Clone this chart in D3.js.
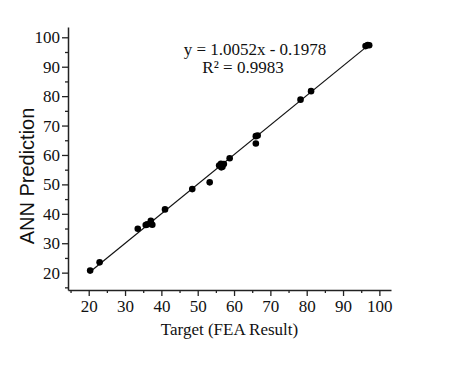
<!DOCTYPE html>
<html>
<head>
<meta charset="utf-8">
<script src="https://cdn.jsdelivr.net/npm/d3@7"></script>
<style>
  html, body { margin: 0; padding: 0; background: #fff; }
  svg { display: block; }
</style>
</head>
<body>
<svg id="chart" width="474" height="366"></svg>
<script>
// ---- data ----
const targetValues = [20.4, 23.0, 33.5, 35.7, 36.1, 37.1, 37.5, 41.0, 48.5, 53.3, 55.9, 56.4, 56.8, 57.2, 56.5, 58.8, 66.0, 66.5, 66.0, 78.3, 81.2, 96.2, 96.8, 97.2];
const predictedValues = [20.7, 23.5, 34.9, 36.2, 36.4, 37.6, 36.3, 41.5, 48.4, 50.7, 56.4, 57.0, 56.0, 56.9, 55.8, 58.9, 66.4, 66.6, 63.9, 78.8, 81.7, 97.0, 97.4, 97.3];
const xTickValues = [20, 30, 40, 50, 60, 70, 80, 90, 100];
const yTickValues = [20, 30, 40, 50, 60, 70, 80, 90, 100];
const xMinorTicks = [15, 25, 35, 45, 55, 65, 75, 85, 95];
const yMinorTicks = [15, 25, 35, 45, 55, 65, 75, 85, 95];
const fitSlope = 1.0052;
const fitIntercept = -0.1978;
const equationText = "y = 1.0052x - 0.1978";
const r2Text = "R² = 0.9983";
const xTitle = "Target (FEA Result)";
const yTitle = "ANN Prediction";

// ---- layout ----
const svg = d3.select("#chart");
const mLeft = 68, mRight = 391, mTop = 27, mBottom = 290;
const x = d3.scaleLinear().domain([14.3, 103.2]).range([mLeft, mRight]);
const y = d3.scaleLinear().domain([14.1, 103.5]).range([mBottom, mTop]);
const serif = "'Liberation Serif', 'Times New Roman', serif";

function styleAxis(g) {
  g.select(".domain").attr("stroke", "#222").attr("stroke-width", 1.5);
  g.selectAll(".tick line").attr("stroke", "#222").attr("stroke-width", 1.3);
  g.selectAll(".tick text").attr("font-family", serif).attr("font-size", 17).attr("fill", "#111");
}

// minor ticks
svg.append("g").attr("transform", `translate(0,${mBottom})`)
  .call(d3.axisBottom(x).tickValues(xMinorTicks).tickSize(3).tickFormat(""))
  .call(g => { g.select(".domain").remove(); g.selectAll(".tick line").attr("stroke", "#222").attr("stroke-width", 1.3); });
svg.append("g").attr("transform", `translate(${mLeft},0)`)
  .call(d3.axisLeft(y).tickValues(yMinorTicks).tickSize(3).tickFormat(""))
  .call(g => { g.select(".domain").remove(); g.selectAll(".tick line").attr("stroke", "#222").attr("stroke-width", 1.3); });

// major axes
svg.append("g").attr("transform", `translate(0,${mBottom})`)
  .call(d3.axisBottom(x).tickValues(xTickValues).tickSize(6).tickSizeOuter(0).tickPadding(4).tickFormat(d3.format("d")))
  .call(styleAxis);
svg.append("g").attr("transform", `translate(${mLeft},0)`)
  .call(d3.axisLeft(y).tickValues(yTickValues).tickSize(6).tickSizeOuter(0).tickPadding(2).tickFormat(d3.format("d")))
  .call(styleAxis);

// fit line
const xMin = d3.min(targetValues), xMax = d3.max(targetValues);
svg.append("line")
  .attr("x1", x(xMin)).attr("y1", y(fitSlope * xMin + fitIntercept))
  .attr("x2", x(xMax)).attr("y2", y(fitSlope * xMax + fitIntercept))
  .attr("stroke", "#111").attr("stroke-width", 1.2);

// points
svg.append("g").selectAll("circle")
  .data(targetValues.map((t, i) => [t, predictedValues[i]]))
  .join("circle")
  .attr("cx", d => x(d[0])).attr("cy", d => y(d[1]))
  .attr("r", 3.3).attr("fill", "#000");

// equation
svg.append("text").attr("x", 255).attr("y", 55).attr("text-anchor", "middle")
  .attr("font-family", serif).attr("font-size", 17).attr("fill", "#111").text(equationText);
svg.append("text").attr("x", 243).attr("y", 73).attr("text-anchor", "middle")
  .attr("font-family", serif).attr("font-size", 17).attr("fill", "#111").text(r2Text);

// axis titles
svg.append("text").attr("x", (mLeft + mRight) / 2).attr("y", 335).attr("text-anchor", "middle")
  .attr("font-family", serif).attr("font-size", 17).attr("fill", "#111").text(xTitle);
svg.append("text").attr("transform", "translate(34,176) rotate(-90)").attr("text-anchor", "middle")
  .attr("font-family", "'Liberation Sans', Arial, sans-serif").attr("font-size", 20).attr("fill", "#111").text(yTitle);
</script>
</body>
</html>
